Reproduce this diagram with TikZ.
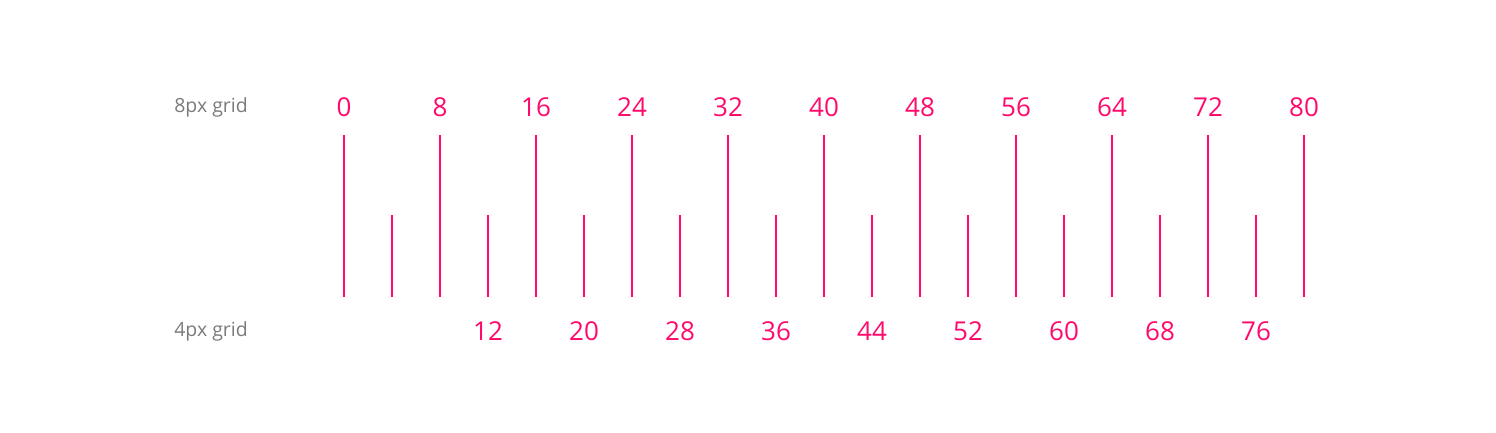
\documentclass[tikz,border=0pt]{standalone}
\usepackage{fontspec}
\setmainfont{Open Sans}
\definecolor{pink}{HTML}{FF0A6C}
\definecolor{lbl}{HTML}{7A7A7A}
\begin{document}
\begin{tikzpicture}[x=1pt,y=-1pt,
  longtick/.style={draw=pink,line width=2pt},
  shorttick/.style={draw=pink,line width=2pt},
  num/.style={text=pink,font=\fontsize{26}{26}\selectfont,inner sep=0pt,anchor=base},
  side/.style={text=lbl,font=\fontsize{19.5}{19.5}\selectfont,inner sep=0pt,anchor=base east}]
\useasboundingbox (0,0) rectangle (1496,432);
\node[side] (l8) at (248,112) {8px grid};
\node[side] (l4) at (248,336) {4px grid};
\foreach \i in {0,...,10}{
  \pgfmathtruncatemacro{\v}{8*\i}
  \coordinate (lt\i) at ({344+96*\i},135);
  \coordinate (lb\i) at ({344+96*\i},297);
  \draw[longtick] (lt\i) -- (lb\i);
  \node[num] (n\i) at ({344+96*\i},116) {\v};
}
\foreach \i in {0,...,9}{
  \pgfmathtruncatemacro{\v}{8*\i+4}
  \coordinate (st\i) at ({392+96*\i},215);
  \coordinate (sb\i) at ({392+96*\i},297);
  \draw[shorttick] (st\i) -- (sb\i);
  \ifnum\i>0
  \node[num] (m\i) at ({392+96*\i},340) {\v};
  \fi
}
\end{tikzpicture}
\end{document}
